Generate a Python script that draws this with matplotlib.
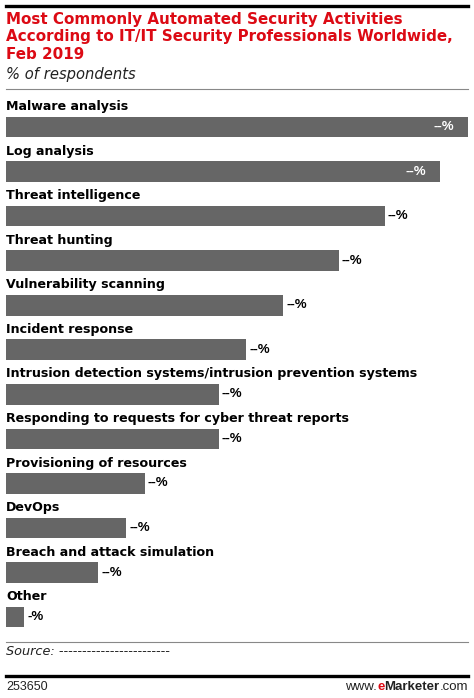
import matplotlib.pyplot as plt
from matplotlib.lines import Line2D

categories = [
    "Malware analysis",
    "Log analysis",
    "Threat intelligence",
    "Threat hunting",
    "Vulnerability scanning",
    "Incident response",
    "Intrusion detection systems/intrusion prevention systems",
    "Responding to requests for cyber threat reports",
    "Provisioning of resources",
    "DevOps",
    "Breach and attack simulation",
    "Other",
]
values = [100, 94, 82, 72, 60, 52, 46, 46, 30, 26, 20, 4]
value_labels = ["--%"] * 11 + ["-%"]

title = ("Most Commonly Automated Security Activities\n"
         "According to IT/IT Security Professionals Worldwide,\n"
         "Feb 2019")
subtitle = "% of respondents"
source = "Source: ------------------------"
chart_id = "253650"

W, H = 474, 698
RED = "#dc0a14"
BAR = "#666666"
NARROW = "Liberation Sans"

fig = plt.figure(figsize=(W / 100, H / 100), dpi=100)


def fx(px):
    return px / W


def fy(py):
    return 1 - py / H


# plot area: bar i centred at pixel 127 + 44.55*i
top_px, bot_px = 100, 640
pitch, first = 44.55, 127
ax = fig.add_axes([fx(6), fy(bot_px), fx(462), (bot_px - top_px) / H])
ax.set_xlim(0, 100)
ax.set_ylim((bot_px - first) / pitch, (top_px - first) / pitch)
ax.axis("off")

bar_h = 20.7 / pitch
ys = list(range(len(categories)))
ax.barh(ys, values, height=bar_h, color=BAR, left=0)

for i, (cat, v, lab) in enumerate(zip(categories, values, value_labels)):
    ax.text(0, i - bar_h / 2 - 6.5 / pitch, cat, fontsize=9.05, fontweight="bold",
            ha="left", va="baseline", color="black")
    if v > 90:
        ax.annotate(lab, (v, i), xytext=(-10, 0), textcoords="offset points",
                    ha="right", va="center", fontsize=9.5, fontweight="bold",
                    family=NARROW, color="white")
    else:
        ax.annotate(lab, (v, i), xytext=(2.2, 0), textcoords="offset points",
                    ha="left", va="center", fontsize=9.5, fontweight="bold",
                    family=NARROW, color="black")

# header
fig.add_artist(Line2D([fx(6), fx(468)], [fy(6), fy(6)], color="black", lw=2.4))
fig.text(fx(6), fy(12), title, color=RED, fontsize=10.9, fontweight="bold",
         ha="left", va="top", linespacing=1.2)
fig.text(fx(6), fy(67), subtitle, fontsize=10.6, fontstyle="italic", ha="left", va="top",
         color="#222222")
fig.add_artist(Line2D([fx(6), fx(468)], [fy(88.5), fy(88.5)], color="#888888", lw=0.8))

# footer
fig.add_artist(Line2D([fx(6), fx(468)], [fy(642), fy(642)], color="#888888", lw=0.8))
fig.text(fx(6), fy(645), source, fontsize=9.3, fontstyle="italic", ha="left", va="top",
         color="#222222")
fig.add_artist(Line2D([fx(6), fx(468)], [fy(676), fy(676)], color="black", lw=2.4))
fig.text(fx(6), fy(681), chart_id, fontsize=9, family=NARROW, ha="left", va="top",
         color="#222222")
t_www = fig.text(fx(468), fy(681), "www.", fontsize=9.5, family=NARROW, ha="right",
                 va="top", color="#222222")
t_com = fig.text(fx(468), fy(681), ".com", fontsize=9.5, family=NARROW, ha="right",
                 va="top", color="#222222")

# build "www.eMarketer.com" right to left
fig.canvas.draw()
r = fig.canvas.get_renderer()
x_right = t_com.get_window_extent(r).x0
t_mk = fig.text(x_right / W, fy(681), "Marketer", fontsize=9.5, fontweight="bold",
                family=NARROW, ha="right", va="top", color="#222222")
x_right = t_mk.get_window_extent(r).x0
t_e = fig.text(x_right / W, fy(681), "e", fontsize=9.5, fontweight="bold",
               family=NARROW, ha="right", va="top", color=RED)
x_right = t_e.get_window_extent(r).x0
t_www.set_position((x_right / W, fy(681)))

fig.savefig("out.png", dpi=100)
